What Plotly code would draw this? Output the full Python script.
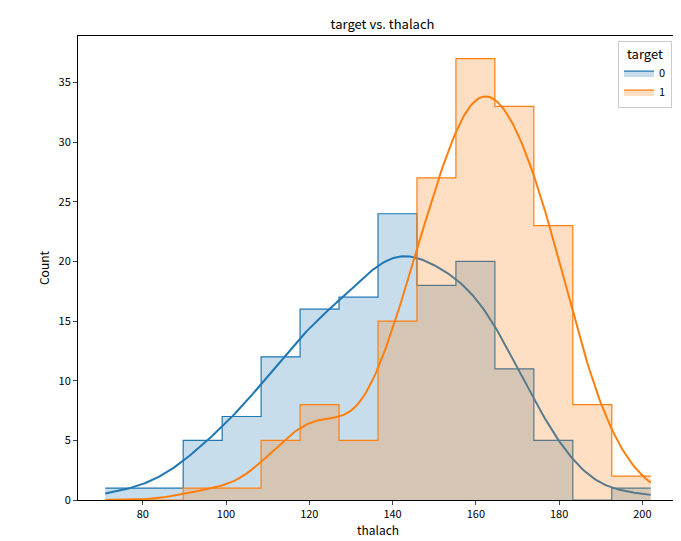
import numpy as np
import plotly.graph_objects as go

xmin, xmax, nbins = 71, 202, 14
counts0 = [1, 1, 5, 7, 12, 16, 17, 24, 18, 20, 11, 5, 0, 1]
counts1 = [0, 0, 1, 1, 5, 8, 5, 15, 27, 37, 33, 23, 8, 2]
labels = ["0", "1"]
colors = ["#1f77b4", "#ff7f0e"]
fills = ["rgba(31,119,180,0.25)", "rgba(255,127,14,0.25)"]

edges = np.linspace(xmin, xmax, nbins + 1)
centers = (edges[:-1] + edges[1:]) / 2
bw_bin = edges[1] - edges[0]
grid = np.linspace(xmin, xmax, 300)

fig = go.Figure()
for counts, lab, c, f in zip([counts0, counts1], labels, colors, fills):
    cnt = np.array(counts, float)
    fig.add_trace(go.Scatter(x=edges, y=list(cnt) + [cnt[-1]], mode="lines",
                             line=dict(shape="hv", color=c, width=1.2),
                             fill="tozeroy", fillcolor=f, name=lab,
                             legendgroup=lab))
    n = cnt.sum()
    mu = (cnt * centers).sum() / n
    sd = np.sqrt((cnt * (centers - mu) ** 2).sum() / n)
    h = sd * n ** (-0.2)
    dens = (cnt[:, None] * np.exp(-0.5 * ((grid[None, :] - centers[:, None]) / h) ** 2)).sum(0) / (n * h * np.sqrt(2 * np.pi))
    fig.add_trace(go.Scatter(x=grid, y=dens * n * bw_bin, mode="lines",
                             line=dict(color=c, width=2), showlegend=False,
                             legendgroup=lab, hoverinfo="skip"))

fig.update_layout(
    width=681, height=541, paper_bgcolor="white", plot_bgcolor="white",
    margin=dict(l=70, r=11, t=28, b=49),
    font=dict(family="Noto Sans CJK SC, DejaVu Sans", size=11, color="black"),
    title=dict(text="target vs. thalach", x=0.55, xanchor="center", y=0.97, yanchor="middle", font=dict(size=13)),
    legend=dict(title=dict(text="target", side="top center"), x=0.99, y=0.99, xanchor="right", yanchor="top",
                bordercolor="#cccccc", borderwidth=1, bgcolor="rgba(255,255,255,0.8)",
                tracegroupgap=0, itemwidth=30),
    xaxis=dict(range=[64.45, 208.55], tickvals=[80, 100, 120, 140, 160, 180, 200],
               showgrid=False, zeroline=False, showline=True, linecolor="black", mirror=True,
               ticks="outside", ticklen=4, title=dict(text="thalach", standoff=4, font=dict(size=12))),
    yaxis=dict(range=[0, 38.9], tickvals=[0, 5, 10, 15, 20, 25, 30, 35],
               showgrid=False, zeroline=False, showline=True, linecolor="black", mirror=True,
               ticks="outside", ticklen=4, title=dict(text="Count", standoff=6, font=dict(size=12))),
)
fig.write_html("out.html")
